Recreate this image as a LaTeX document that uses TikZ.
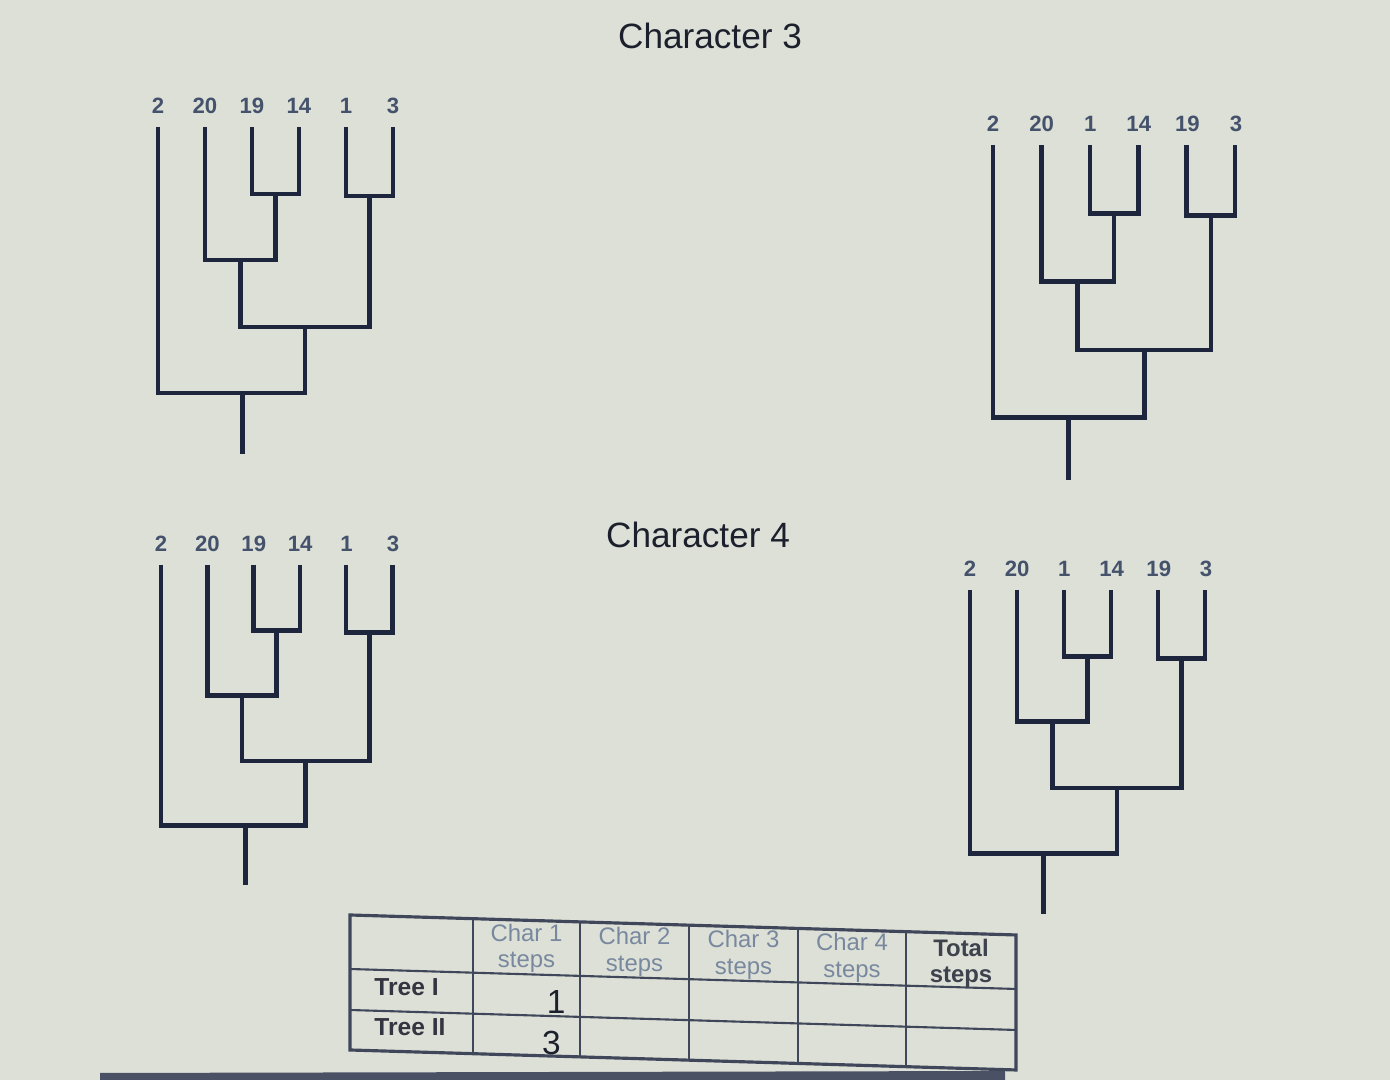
\documentclass[tikz,border=0pt]{standalone}
\usepackage{fontspec}
\setmainfont{Liberation Sans}
\usepackage{tikz}
\usetikzlibrary{calc}
\definecolor{pagegray}{RGB}{221,224,215}
\definecolor{branchnavy}{RGB}{30,38,62}
\definecolor{labelslate}{RGB}{68,82,108}
\definecolor{headfade}{RGB}{120,136,158}
\definecolor{titleink}{RGB}{28,32,44}
\tikzset{
  branch/.style={draw=branchnavy, line width=1.3pt},
  leaflabel/.style={font=\fontsize{6.3}{7}\selectfont\bfseries, text=labelslate, anchor=south, inner sep=0.5pt},
  charttitle/.style={font=\fontsize{10}{12}\selectfont, text=titleink},
  gridline/.style={draw=branchnavy!85, line width=0.6pt},
  headcell/.style={font=\fontsize{6.8}{7.6}\selectfont, text=headfade, align=center},
  rowcell/.style={font=\fontsize{7}{8}\selectfont\bfseries, text=titleink!90, anchor=west},
  stepcount/.style={font=\fontsize{9.5}{10}\selectfont, text=titleink, anchor=east}
}
% leaf heights below the tip row (px)
\def\hA{67}
\def\hB{133}
\def\hC{69}
\def\hD{200}
\def\hE{266}
\def\hRoot{327}
\newcommand{\CladeTree}[9]{%
  % #1 x-shift, #2 y-shift, #3 leaf gap, #4 height scale, #5-#8 labels of leaves 3-6, #9 root stem x
  \begin{scope}[shift={(#1,#2)}, xscale=#3, yscale=#4]
    % Tips and labels
    \foreach \lab [count=\i from 0] in {2,20,#5,#6,#7,#8}{
      \coordinate (t\i) at (\i,0);
      \node[leaflabel] (lab\i) at (\i,-11) {\lab};
    }
    % Inner nodes
    \coordinate (n1) at (2.5,\hA);
    \coordinate (n2) at (1.75,\hB);
    \coordinate (n3) at (4.5,\hC);
    \coordinate (n4) at (3.125,\hD);
    \coordinate (n5) at (#9,\hE);
    \coordinate (base) at (#9,\hRoot);
    % Branches
    \draw[branch] (t2) |- (n1) -| (t3);
    \draw[branch] (t1) |- (n2) -| (n1);
    \draw[branch] (t4) |- (n3) -| (t5);
    \draw[branch] (n2) |- (n4) -| (n3);
    \draw[branch] (t0) |- (n5) -| (n4);
    \draw[branch] (n5) -- (base);
  \end{scope}
}

\begin{document}
\begin{tikzpicture}[x=0.01cm, y=-0.01cm]
  \fill[pagegray] (0,0) rectangle (1390,1080);
  \useasboundingbox (0,0) rectangle (1390,1080);
  \fill[branchnavy!80] (100,1073) -- (1005,1071) -- (1005,1080) -- (100,1080) -- cycle;

  % Character 3
  \node[charttitle] (title3) at (710,36) {Character 3};
  \CladeTree{158}{127}{47}{1.0}{19}{14}{1}{3}{1.8}
  \CladeTree{993}{145}{48.6}{1.025}{1}{14}{19}{3}{1.56}

  % Character 4
  \node[charttitle] (title4) at (698,535) {Character 4};
  \CladeTree{161}{565}{46.4}{0.98}{19}{14}{1}{3}{1.83}
  \CladeTree{970}{590}{47.2}{0.99}{1}{14}{19}{3}{1.56}

  % Steps table
  \begin{scope}[shift={(350,915)}, yslant=-0.03]
    \draw[gridline, line width=0.9pt] (0,0) rectangle (666,135);
    \foreach \cx in {123,230,339,448,556}
      \draw[gridline] (\cx,0) -- (\cx,135);
    \draw[gridline] (0,54) -- (666,54);
    \draw[gridline] (0,95) -- (666,95);
    \foreach \ca/\cb/\txt [count=\k] in {123/230/Char 1,230/339/Char 2,339/448/Char 3,448/556/Char 4}
      \node[headcell] (head\k) at ({(\ca+\cb)/2},28) {\txt\\steps};
    \node[headcell, font=\fontsize{6.8}{7.6}\selectfont\bfseries, text=titleink!85] (headT) at (611,30) {Total\\steps};
    \node[rowcell] (tree1) at (12,72) {Tree I};
    \node[rowcell] (tree2) at (12,112) {Tree II};
    \node[stepcount] (c11) at (228,80) {1};
    \node[stepcount] (c21) at (223,121) {3};
  \end{scope}
\end{tikzpicture}
\end{document}
